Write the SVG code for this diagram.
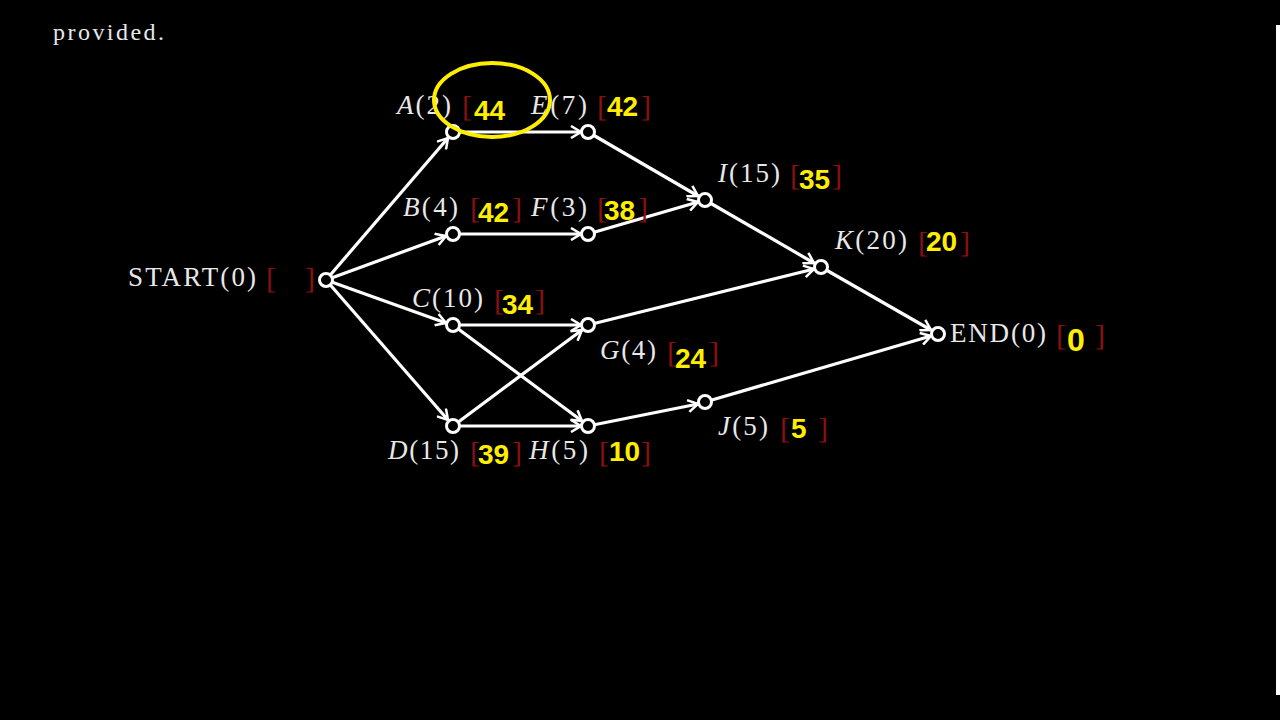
<svg xmlns="http://www.w3.org/2000/svg" width="1280" height="720" viewBox="0 0 1280 720">
<defs>
<marker id="ar" markerWidth="14" markerHeight="14" refX="12" refY="7" orient="auto" markerUnits="userSpaceOnUse">
<path d="M2,1 L12,7 L2,13" fill="none" stroke="#fff" stroke-width="2.5"/>
</marker>
<style>
.e{stroke:#fff;stroke-width:3.2;fill:none;marker-end:url(#ar)}
.n{fill:#000;stroke:#fff;stroke-width:3}
.l{font-family:"Liberation Serif",serif;font-size:27px;fill:#e8e8e8}
.i{font-style:italic}
.b{font-family:"Liberation Serif",serif;font-size:30px;fill:#8b1010}
.y{font-family:"Liberation Sans",sans-serif;font-weight:bold;font-size:28px;fill:#ffee00}
</style>
</defs>
<rect width="1280" height="720" fill="#000"/>
<rect x="1276" y="25" width="4" height="670" fill="#fff"/>
<text x="53" y="40" class="l" style="font-size:24px" textLength="111">provided.</text>
<g id="connectors">
<line class="e" x1="326" y1="280" x2="448" y2="138"/>
<line class="e" x1="326" y1="280" x2="446" y2="236"/>
<line class="e" x1="326" y1="280" x2="446" y2="323"/>
<line class="e" x1="326" y1="280" x2="448" y2="420"/>
<line class="e" x1="453" y1="132" x2="581" y2="132"/>
<line class="e" x1="588" y1="132" x2="698" y2="196"/>
<line class="e" x1="453" y1="234" x2="581" y2="234"/>
<line class="e" x1="588" y1="234" x2="698" y2="202"/>
<line class="e" x1="705" y1="200" x2="814" y2="263"/>
<line class="e" x1="453" y1="325" x2="581" y2="325"/>
<line class="e" x1="453" y1="325" x2="582" y2="421"/>
<line class="e" x1="453" y1="426" x2="582" y2="330"/>
<line class="e" x1="453" y1="426" x2="581" y2="426"/>
<line class="e" x1="588" y1="325" x2="814" y2="269"/>
<line class="e" x1="588" y1="426" x2="698" y2="404"/>
<line class="e" x1="821" y1="267" x2="931" y2="330"/>
<line class="e" x1="705" y1="402" x2="931" y2="336"/>
</g>
<g id="START"><circle class="n" cx="326" cy="280" r="6.5"/><text class="l" x="128" y="286" textLength="128">START(0)</text><text class="b" x="266" y="288">[</text><text class="b" x="305" y="288">]</text></g>
<g id="A"><circle class="n" cx="453" cy="132" r="6.5"/><text class="l" x="397" y="114" textLength="54"><tspan class="i">A</tspan>(2)</text><text class="b" x="462" y="116">[</text><text class="y" x="474" y="120">44</text></g>
<g id="E"><circle class="n" cx="588" cy="132" r="6.5"/><text class="l" x="531" y="114" textLength="56"><tspan class="i">E</tspan>(7)</text><text class="b" x="597" y="116">[</text><text class="y" x="607" y="116">42</text><text class="b" x="641" y="116">]</text></g>
<g id="B"><circle class="n" cx="453" cy="234" r="6.5"/><text class="l" x="403" y="216" textLength="55"><tspan class="i">B</tspan>(4)</text><text class="b" x="470" y="218">[</text><text class="y" x="478" y="222">42</text><text class="b" x="512" y="218">]</text></g>
<g id="F"><circle class="n" cx="588" cy="234" r="6.5"/><text class="l" x="531" y="216" textLength="56"><tspan class="i">F</tspan>(3)</text><text class="b" x="597" y="218">[</text><text class="y" x="604" y="220">38</text><text class="b" x="638" y="218">]</text></g>
<g id="I"><circle class="n" cx="705" cy="200" r="6.5"/><text class="l" x="718" y="182" textLength="62"><tspan class="i">I</tspan>(15)</text><text class="b" x="790" y="185">[</text><text class="y" x="799" y="189">35</text><text class="b" x="832" y="185">]</text></g>
<g id="K"><circle class="n" cx="821" cy="267" r="6.5"/><text class="l" x="835" y="249" textLength="72"><tspan class="i">K</tspan>(20)</text><text class="b" x="918" y="252">[</text><text class="y" x="926" y="251">20</text><text class="b" x="960" y="252">]</text></g>
<g id="C"><circle class="n" cx="453" cy="325" r="6.5"/><text class="l" x="412" y="307" textLength="71"><tspan class="i">C</tspan>(10)</text><text class="b" x="494" y="310">[</text><text class="y" x="502" y="314">34</text><text class="b" x="535" y="310">]</text></g>
<g id="G"><circle class="n" cx="588" cy="325" r="6.5"/><text class="l" x="600" y="359" textLength="56"><tspan class="i">G</tspan>(4)</text><text class="b" x="667" y="362">[</text><text class="y" x="675" y="368">24</text><text class="b" x="709" y="362">]</text></g>
<g id="END"><circle class="n" cx="938" cy="334" r="6.5"/><text class="l" x="950" y="342" textLength="96">END(0)</text><text class="b" x="1056" y="345">[</text><text class="y" x="1067" y="351" style="font-size:32px">0</text><text class="b" x="1095" y="345">]</text></g>
<g id="D"><circle class="n" cx="453" cy="426" r="6.5"/><text class="l" x="388" y="459" textLength="71"><tspan class="i">D</tspan>(15)</text><text class="b" x="470" y="462">[</text><text class="y" x="478" y="464">39</text><text class="b" x="512" y="462">]</text></g>
<g id="H"><circle class="n" cx="588" cy="426" r="6.5"/><text class="l" x="529" y="459" textLength="59"><tspan class="i">H</tspan>(5)</text><text class="b" x="599" y="462">[</text><text class="y" x="609" y="461">10</text><text class="b" x="641" y="462">]</text></g>
<g id="J"><circle class="n" cx="705" cy="402" r="6.5"/><text class="l" x="718" y="435" textLength="50"><tspan class="i">J</tspan>(5)</text><text class="b" x="780" y="438">[</text><text class="y" x="791" y="438">5</text><text class="b" x="818" y="438">]</text></g>
<ellipse cx="492" cy="100" rx="58" ry="37" fill="none" stroke="#ffee00" stroke-width="4"/>
</svg>
